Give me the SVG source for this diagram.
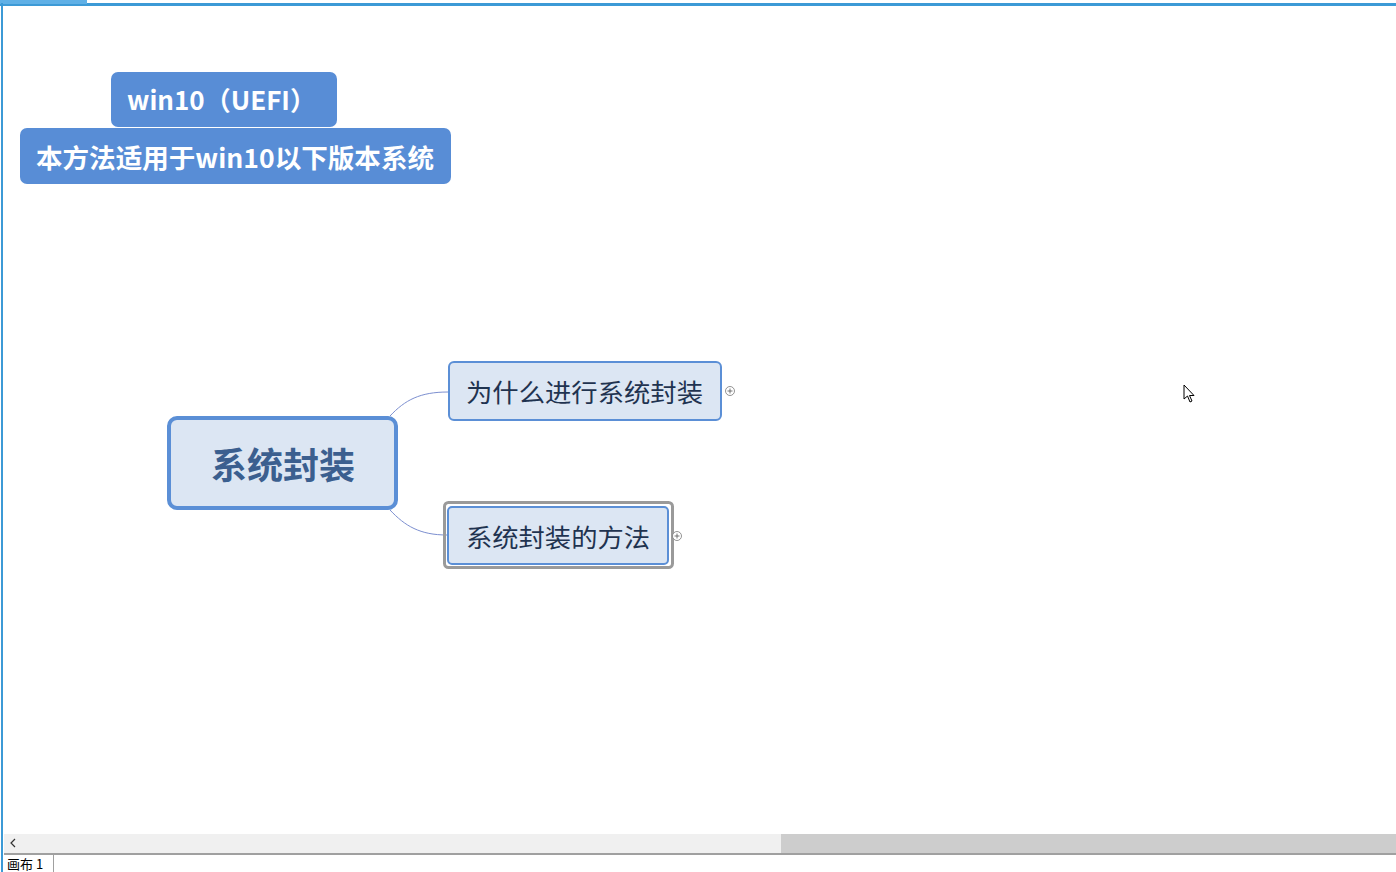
<svg xmlns="http://www.w3.org/2000/svg" width="1396" height="872" viewBox="0 0 1396 872">
<style>
.hdr{fill:#588dd6}
.hdrt{font-family:"Noto Sans CJK SC","Noto Sans",sans-serif;font-weight:bold;font-size:26px;fill:#ffffff}
.sub{fill:#dce6f3;stroke:#5b8fd6;stroke-width:2}
.subt{font-family:"Noto Sans CJK SC",sans-serif;font-size:25px;fill:#1f3350}
.conn{fill:none;stroke:#7c8fd0;stroke-width:1}
.plus{fill:#ffffff;stroke:#777;stroke-width:0.8}
</style>
<rect x="0" y="0" width="1396" height="872" fill="#ffffff"/>
<!-- window frame -->
<rect x="0" y="3" width="1396" height="3" fill="#3c9ad6"/>
<rect x="0" y="0" width="87" height="4" fill="#5fb0e6"/>
<rect x="1" y="3" width="2" height="869" fill="#3c9ad6"/>
<!-- connectors -->
<g id="connectors">
<path class="conn" d="M390,416 C405,400 420,392 448,392"/>
<path class="conn" d="M390,510 C405,526 420,535 447,535"/>
</g>
<g id="node-win10">
<rect class="hdr" x="111" y="72" width="226" height="55" rx="7"/>
<text class="hdrt" x="127" y="110">win10（UEFI）</text>
</g>
<g id="node-note">
<rect class="hdr" x="20" y="128" width="431" height="56" rx="7"/>
<text class="hdrt" x="36" y="168" textLength="398" lengthAdjust="spacingAndGlyphs">本方法适用于win10以下版本系统</text>
</g>
<g id="node-root">
<rect x="169" y="418" width="227" height="90" rx="8" fill="#dce6f3" stroke="#5b8fd6" stroke-width="4"/>
<text x="283" y="479" text-anchor="middle" font-family="Noto Sans CJK SC, sans-serif" font-weight="bold" font-size="36" fill="#3b5f8f">系统封装</text>
</g>
<g id="node-why">
<rect class="sub" x="449" y="362" width="272" height="58" rx="5"/>
<text class="subt" x="466" y="402" textLength="237" lengthAdjust="spacingAndGlyphs">为什么进行系统封装</text>
<circle class="plus" cx="730" cy="391" r="4.5"/>
<path d="M727.5,391 h5 M730,388.5 v5" stroke="#555" stroke-width="0.8"/>
</g>
<g id="node-method">
<rect x="444.5" y="502.5" width="228" height="65" rx="4" fill="none" stroke="#9a9a9a" stroke-width="3"/>
<rect class="sub" x="448" y="507" width="220" height="57" rx="4"/>
<text class="subt" x="466" y="547" textLength="184" lengthAdjust="spacingAndGlyphs">系统封装的方法</text>
<circle class="plus" cx="677" cy="536" r="4.5"/>
<path d="M674.5,536 h5 M677,533.5 v5" stroke="#555" stroke-width="0.8"/>
</g>
<!-- cursor -->
<path d="M1184,385 L1184,399 L1187.5,396 L1190,402 L1192,401 L1189.5,395.5 L1194,395.5 Z" fill="#ffffff" stroke="#000" stroke-width="1"/>
<!-- scrollbar -->
<rect x="4" y="834" width="1392" height="20" fill="#f0f0f0"/>
<rect x="781" y="834" width="615" height="19" fill="#cdcdcd"/>
<path d="M15,839 L11,843 L15,847" fill="none" stroke="#333" stroke-width="1.2"/>
<rect x="4" y="853" width="1392" height="2" fill="#a0a0a0"/>
<rect x="4" y="855" width="1392" height="17" fill="#ffffff"/>
<rect x="53" y="855" width="1" height="17" fill="#a0a0a0"/>
<text x="7" y="869" font-family="Noto Sans CJK SC, sans-serif" font-size="13" fill="#000">画布 1</text>
</svg>
